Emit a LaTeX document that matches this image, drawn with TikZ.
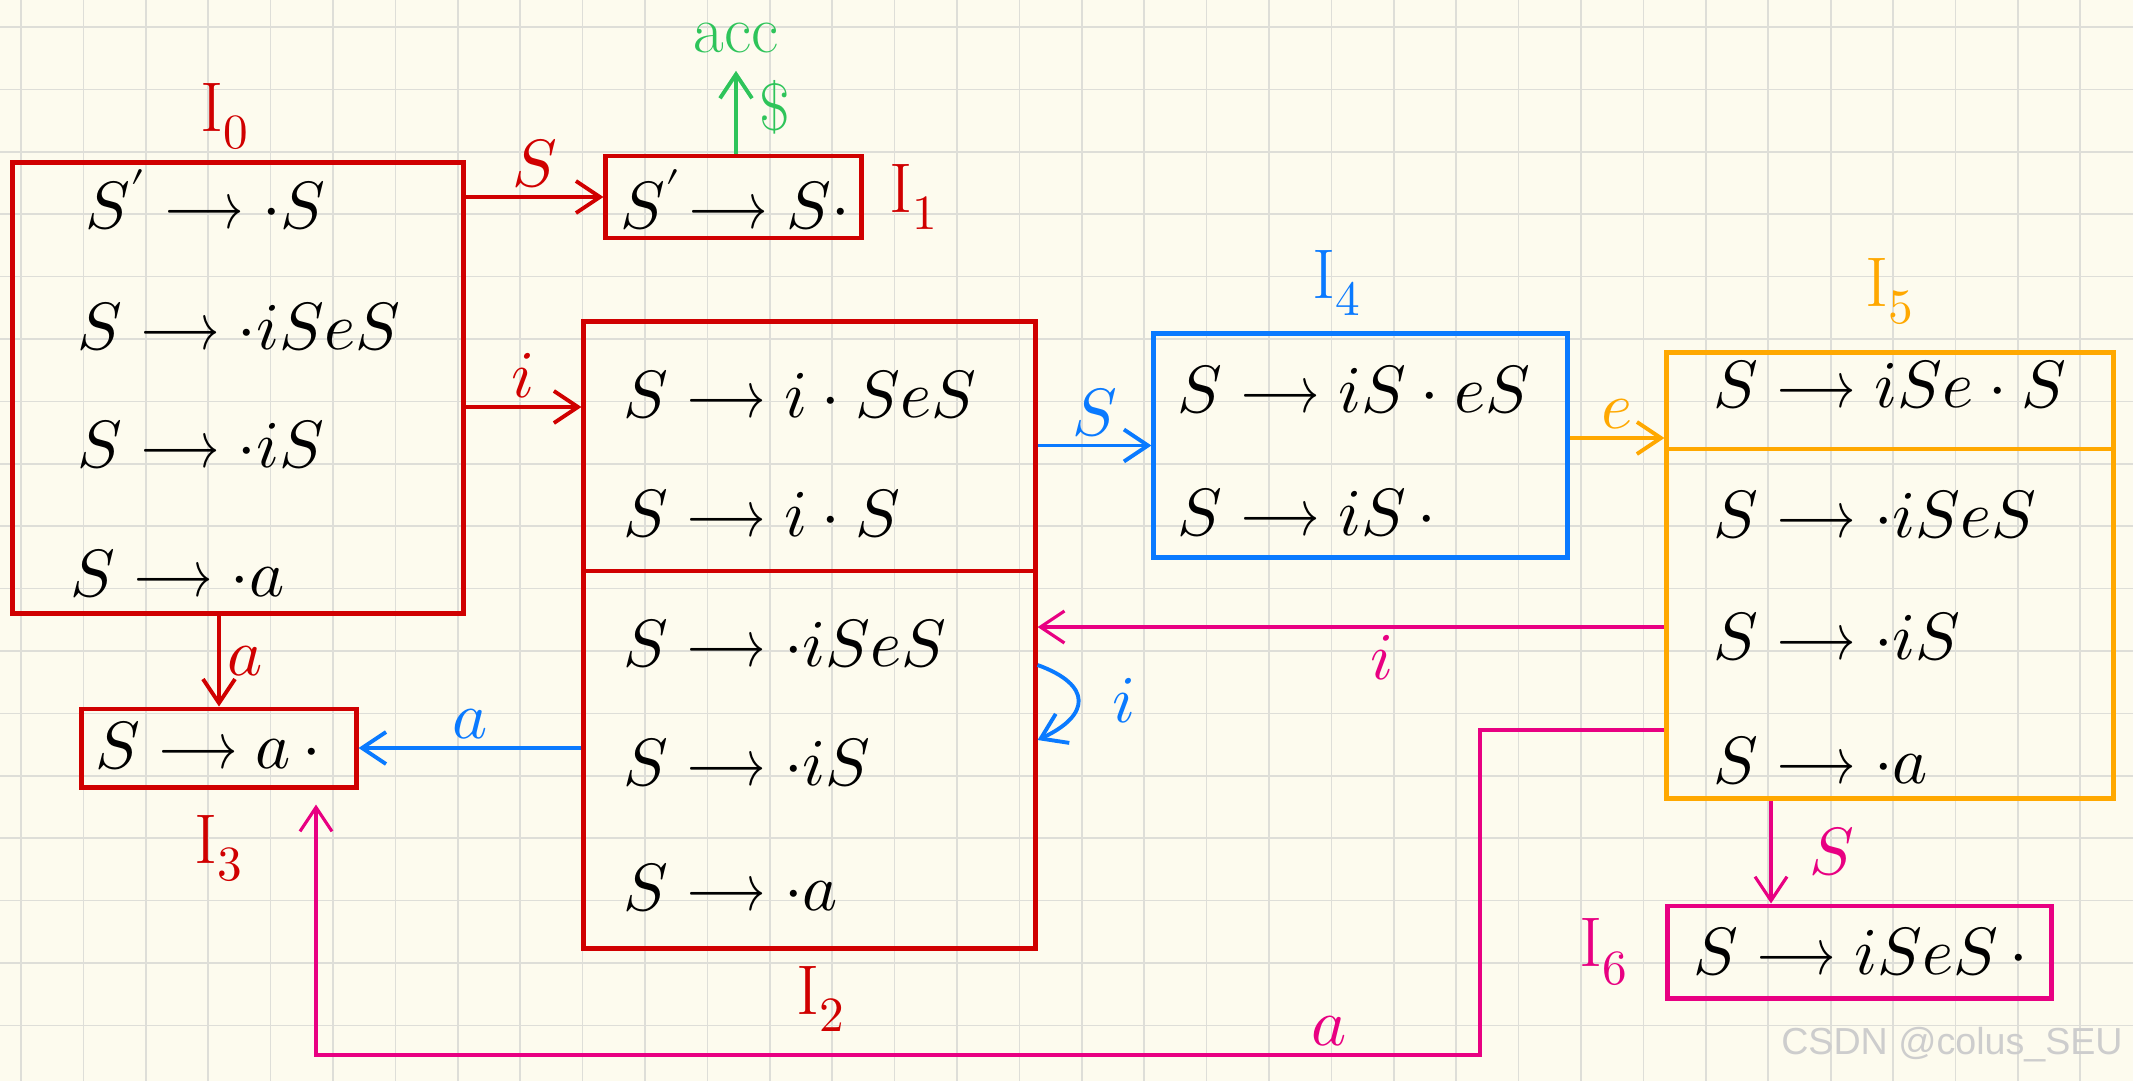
\documentclass[tikz,border=0pt]{standalone}
\usepackage{fontspec}
\usepackage{unicode-math}
\usepackage{tikz}
\usetikzlibrary{arrows.meta,positioning}
\newfontfamily\wmfont{Liberation Sans}
\definecolor{lrred}{RGB}{208,0,0}
\definecolor{lrblue}{RGB}{10,122,255}
\definecolor{lrorange}{RGB}{255,168,0}
\definecolor{lrpink}{RGB}{232,0,130}
\definecolor{lrgreen}{RGB}{46,196,90}
\definecolor{paper}{RGB}{253,251,238}
\definecolor{gridline}{RGB}{222,222,216}
\definecolor{wmgray}{RGB}{205,205,205}
\newcommand{\goes}{\mathrel{\scalebox{0.8}[1]{$\longrightarrow$}}}

\begin{document}
\begin{tikzpicture}[
x=0.01cm, y=-0.01cm,
box/.style={draw, line width=1.4pt, inner sep=0pt},
item/.style={anchor=west, inner sep=0pt, font=\fontsize{19}{21}\selectfont},
setname/.style={font=\fontsize{20}{22}\selectfont, inner sep=0pt},
lbl/.style={font=\fontsize{19}{21}\selectfont, inner sep=2pt},
arr/.style={-{Straight Barb[length=2.4mm, width=3.2mm]}, line width=1.1pt},
thin arr/.style={arr, line width=0.9pt}
]
\useasboundingbox (0,0) rectangle (2133,1081);
\fill[paper] (0,0) rectangle (2133,1081);
\foreach \k in {0,...,33} \draw[gridline, line width=0.5pt] (21+62.4*\k,0) -- (21+62.4*\k,1081);
\foreach \k in {0,...,16} \draw[gridline, line width=0.5pt] (0,27+62.4*\k) -- (2133,27+62.4*\k);

\node[box, lrred, minimum width=4.50cm, minimum height=4.50cm] (I0) at (238,388) {};
\node[box, lrred, minimum width=2.55cm, minimum height=0.82cm] (I1) at (733.5,197) {};
\node[box, lrred, minimum width=4.51cm, minimum height=6.26cm] (I2) at (809.5,635) {};
\node[box, lrred, minimum width=2.74cm, minimum height=0.78cm] (I3) at (219,748) {};
\node[box, lrblue, minimum width=4.13cm, minimum height=2.23cm] (I4) at (1360.5,445.5) {};
\node[box, lrorange, minimum width=4.46cm, minimum height=4.45cm] (I5) at (1890,575.5) {};
\node[box, lrpink, minimum width=3.83cm, minimum height=0.92cm] (I6) at (1859.5,952) {};
\draw[lrred, line width=1.4pt] (I2.west |- 0,571) -- (I2.east |- 0,571);
\draw[lrorange, line width=1.4pt] (I5.west |- 0,449) -- (I5.east |- 0,449);

\node[item] (i0a) at (85,200) {$S'\goes\cdot S$};
\node[item] (i0b) at (77,327) {$S\goes\cdot iSeS$};
\node[item] (i0c) at (77,445) {$S\goes\cdot iS$};
\node[item] (i0d) at (70,574) {$S\goes\cdot a$};
\node[item] (i1a) at (620,200) {$S'\!\goes S\cdot$};
\node[item] (i2a) at (623,395) {$S\goes i\cdot SeS$};
\node[item] (i2b) at (623,514) {$S\goes i\cdot S$};
\node[item] (i2c) at (623,644) {$S\goes\cdot iSeS$};
\node[item] (i2d) at (623,763) {$S\goes\cdot iS$};
\node[item] (i2e) at (623,888) {$S\goes\cdot a$};
\node[item] (i3a) at (95,746) {$S\goes a\,\cdot$};
\node[item] (i4a) at (1177,390) {$S\goes iS\cdot eS$};
\node[item] (i4b) at (1177,513) {$S\goes iS\,\cdot$};
\node[item] (i5a) at (1713,385) {$S\goes iSe\cdot S$};
\node[item] (i5b) at (1713,515) {$S\goes\cdot iSeS$};
\node[item] (i5c) at (1713,637) {$S\goes\cdot iS$};
\node[item] (i5d) at (1713,761) {$S\goes\cdot a$};
\node[item] (i6a) at (1693,952) {$S\goes iSeS\,\cdot$};

\node[setname, lrred, above=1mm of I0, xshift=-1.3mm] (n0) {$\mathrm{I}_0$};
\node[setname, lrred, right=2.5mm of I1] (n1) {$\mathrm{I}_1$};
\node[setname, lrred, below=1.5mm of I2, xshift=1.2mm] (n2) {$\mathrm{I}_2$};
\node[setname, lrred, below=2.5mm of I3] (n3) {$\mathrm{I}_3$};
\node[setname, lrblue, above=1.5mm of I4, xshift=-2.3mm] (n4) {$\mathrm{I}_4$};
\node[setname, lrorange, above=2.5mm of I5] (n5) {$\mathrm{I}_5$};
\node[setname, lrpink, left=3.6mm of I6] (n6) {$\mathrm{I}_6$};

\node[lbl, lrgreen] (acc) at (736,38) {acc};
\draw[arr, lrgreen, shorten >=0.1cm] (I1.north -| acc) -- node[lbl, right=1.5mm] (dol) {\$} (acc.south);

\draw[arr, lrred] (I0.east |- I1.west) -- node[lbl, above] (s01) {$S$} (I1.west);
\draw[arr, lrred] (I0.east |- 0,407) -- node[lbl, above] (s02) {$i$} (I2.west |- 0,407);
\draw[arr, lrred] (I3.north |- I0.south) -- node[lbl, right] (s03) {$a$} (I3.north);
\draw[arr, lrblue] (I2.west |- I3.east) -- node[lbl, above] (s23) {$a$} (I3.east);
\draw[arr, lrblue] (I2.east |- 0,665) to[out=-20, in=25, looseness=2] node[lbl, right=2.5mm] (s22) {$i$} (I2.east |- 0,740);
\draw[arr, lrblue] (I2.east |- I4.west) -- node[lbl, above] (s24) {$S$} (I4.west);
\draw[arr, lrorange] (I4.east |- 0,438) -- node[lbl, above] (s45) {$e$} (I5.west |- 0,438);
\draw[thin arr, lrpink] (I5.west |- 0,627) -- node[lbl, below, pos=0.45] (s52) {$i$} (I2.east |- 0,627);
\coordinate (c1) at (1480,730);
\coordinate (c2) at (1480,1055);
\coordinate (c3) at (316,1055);
\draw[thin arr, lrpink, shorten >=0.15cm] (I5.west |- c1) -- (c1) -- (c2) -- node[lbl, above, pos=0.13] (s53) {$a$} (c3) -- (c3 |- I3.south);
\draw[thin arr, lrpink] (I5.south -| 1771,0) -- node[lbl, right=3mm] (s56) {$S$} (I6.north -| 1771,0);

\node[wmgray, font=\wmfont\fontsize{10.7}{12}\selectfont] (wm) at (1952,1045) {CSDN @colus\_SEU};
\end{tikzpicture}
\end{document}
